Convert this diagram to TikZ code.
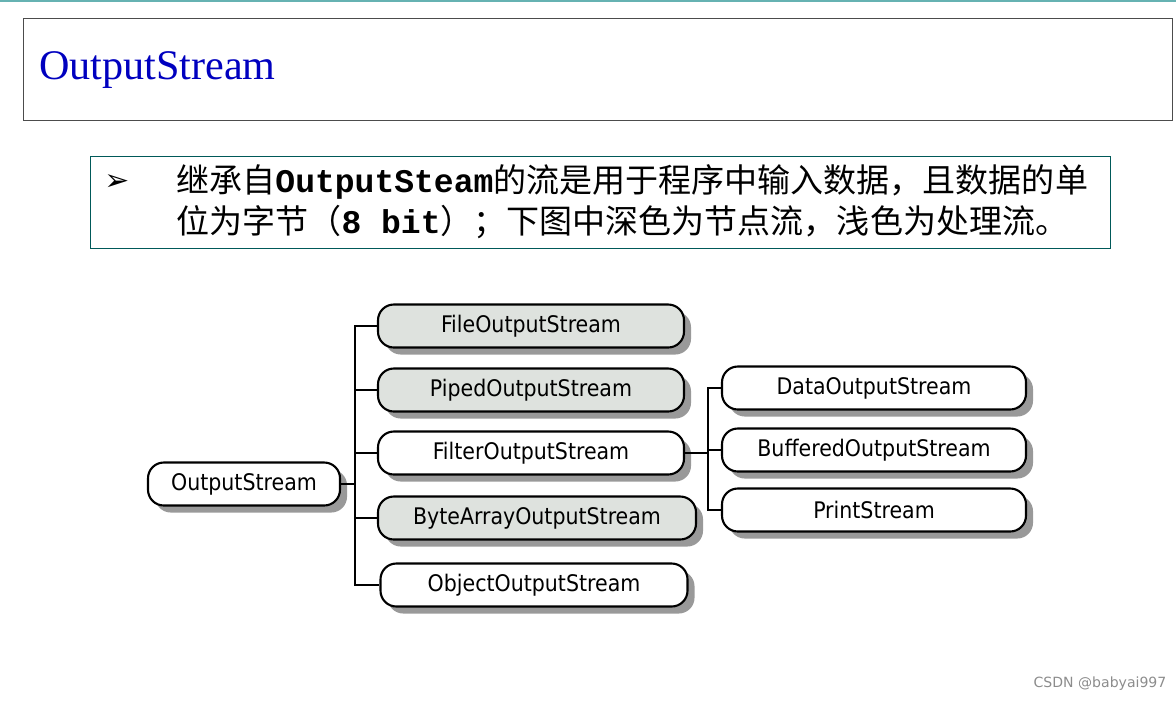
\documentclass[tikz,border=0pt]{standalone}
\usepackage{fontspec}
\setmainfont{Liberation Serif}
\newfontfamily\cjk{Noto Sans CJK SC}
\newfontfamily\mono{Liberation Mono}
\newfontfamily\dv{DejaVu Sans}
\newfontfamily\boxfont{DejaVu Sans Condensed}
\definecolor{darkfill}{RGB}{222,226,222}
\begin{document}
\begin{tikzpicture}[x=0.02cm,y=-0.02cm,
  cls/.style={draw=black,line width=1.2pt,rounded corners=9pt,minimum height=0.86cm,font=\boxfont\fontsize{13}{15}\selectfont,
    preaction={fill=black!40,draw=none,transform canvas={xshift=4pt,yshift=-4pt}}},
  dark/.style={cls,fill=darkfill},
  light/.style={cls,fill=white},
  conn/.style={line width=1.2pt}]
\useasboundingbox (0,0) rectangle (1176,701);
\draw[teal!60,line width=1pt] (0,1) -- (1176,1);
\node[draw=black!70,line width=0.8pt,minimum width=1149*0.02cm,minimum height=102*0.02cm,anchor=north west] (title) at (23,18) {};
\node[anchor=west,text=blue!75!black,font=\fontsize{24}{28}\selectfont] (ttext) at (33,70) {OutputStream};
\node[draw=teal!70!black,line width=0.8pt,minimum width=1020*0.02cm,minimum height=92*0.02cm,anchor=north west] (desc) at (90,156) {};
\node[font=\dv\bfseries\fontsize{17}{20}\selectfont] (bul) at (117,183) {➢};
\node[anchor=west,font=\cjk\fontsize{18.8}{22}\selectfont,inner sep=0] (l1) at (176,182) {继承自{\mono\bfseries OutputSteam}的流是用于程序中输入数据，且数据的单};
\node[anchor=west,font=\cjk\fontsize{18.8}{22}\selectfont,inner sep=0] (l2) at (176,222) {位为字节（{\mono\bfseries 8 bit}）；下图中深色为节点流，浅色为处理流。};
\node[light,minimum width=192*0.02cm] (os) at (244,484) {OutputStream};
\node[dark,minimum width=306*0.02cm] (fos) at (531,326) {FileOutputStream};
\node[dark,minimum width=306*0.02cm] (pos) at (531,390) {PipedOutputStream};
\node[light,minimum width=306*0.02cm] (flt) at (531,453) {FilterOutputStream};
\node[dark,minimum width=318*0.02cm] (bao) at (537,518) {ByteArrayOutputStream};
\node[light,minimum width=307*0.02cm] (oos) at (534,585) {ObjectOutputStream};
\node[light,minimum width=304*0.02cm] (dos) at (874,388) {DataOutputStream};
\node[light,minimum width=304*0.02cm] (bos) at (874,450) {BufferedOutputStream};
\node[light,minimum width=304*0.02cm] (ps) at (874,510) {PrintStream};
\coordinate (t1) at (355,484);
\coordinate (t2) at (708,453);
\draw[conn] (os.east) -- (t1);
\draw[conn] (fos.west) -| (t1) |- (oos.west);
\draw[conn] (pos.west) -- (pos.west -| t1);
\draw[conn] (flt.west) -- (flt.west -| t1);
\draw[conn] (bao.west) -- (bao.west -| t1);
\draw[conn] (flt.east) -- (t2);
\draw[conn] (dos.west) -| (t2) |- (ps.west);
\draw[conn] (bos.west) -- (bos.west -| t2);
\node[text=black!45,font=\dv\fontsize{8}{10}\selectfont] (wm) at (1100,684) {CSDN @babyai997};
\end{tikzpicture}
\end{document}
